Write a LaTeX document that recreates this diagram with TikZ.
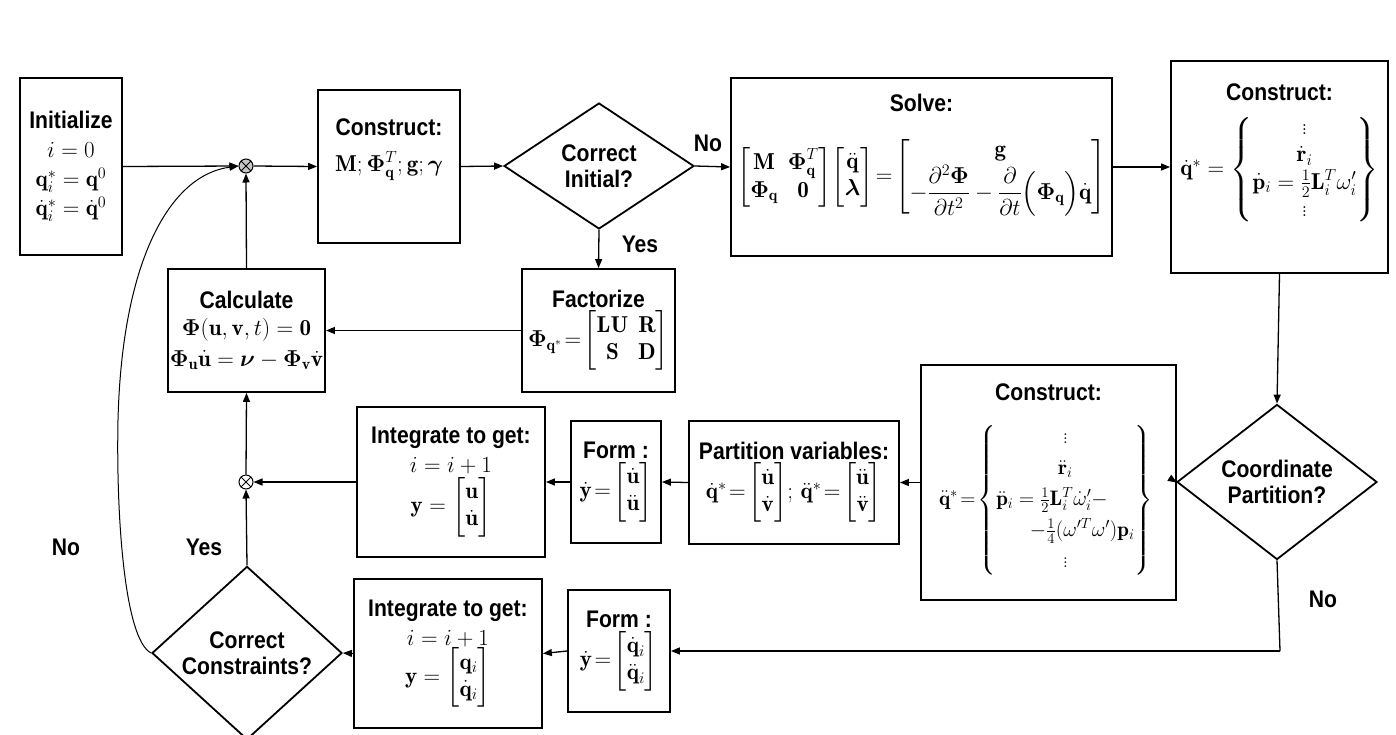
\documentclass[tikz,border=0pt]{standalone}
\usepackage{fix-cm}
\usepackage{amsmath}
\usepackage{fontspec}
\newfontfamily\hd{Liberation Sans Bold}[FakeStretch=0.88]
\usetikzlibrary{shapes.geometric,arrows.meta}
\begin{document}
\begin{tikzpicture}[x=1pt,y=-1pt,
  box/.style={draw,line width=1.8pt,inner sep=2pt,align=center,font=\fontsize{23}{27}\selectfont},
  mth/.style={inner sep=0pt,align=center,font=\fontsize{23}{27}\selectfont},
  dia/.style={draw,line width=1.8pt,diamond,inner sep=0pt,align=center,font=\hd\fontsize{24}{26}\selectfont},
  arr/.style={line width=1.3pt,-{Triangle[length=9pt,width=7pt]}},
  ln/.style={line width=1.3pt},
  jn/.style={draw,circle,line width=1pt,minimum size=14pt,inner sep=0pt,path picture={\draw[line width=0.8pt] (path picture bounding box.north west)--(path picture bounding box.south east) (path picture bounding box.south west)--(path picture bounding box.north east);}},
  lab/.style={font=\hd\fontsize{24}{26}\selectfont},
  ttl/.style={font=\hd\fontsize{24}{26}\selectfont}]
\useasboundingbox (0,0) rectangle (1396,734);
\newcommand\hh[1]{{\hd\fontsize{24}{26}\selectfont #1}}
% boxes
\node[box,minimum width=102pt,minimum height=177pt] (init) at (71,166.5)
  {\hh{Initialize}\\[2pt] $i=0$\\[2pt] $\mathbf q^*_i=\mathbf q^0$\\[2pt] $\dot{\mathbf q}^*_i=\dot{\mathbf q}^0$};
\node[box,minimum width=142pt,minimum height=153pt] (c1) at (389,166.5) {};
\node[ttl] (c1t) at (389,127) {Construct:};
\node[mth] (c1m) at (389,166) {$\mathbf M;\boldsymbol\Phi^T_{\mathbf q};\mathbf g;\boldsymbol\gamma$};
\node[dia,minimum width=190pt,minimum height=126pt] (d1) at (599,166) {Correct\\Initial?};
\node[box,minimum width=381pt,minimum height=178pt] (solve) at (921.5,167) {};
\node[ttl] (solvet) at (921.5,103) {Solve:};
\node[mth] (solvem) at (921.5,177)
  {$\begin{bmatrix}\mathbf M & \boldsymbol\Phi_{\mathbf q}^T\\ \boldsymbol\Phi_{\mathbf q} & \mathbf 0\end{bmatrix}\!\begin{bmatrix}\ddot{\mathbf q}\\ \boldsymbol\lambda\end{bmatrix}\!=\!\begin{bmatrix}\mathbf g\\ -\dfrac{\partial^2\boldsymbol\Phi}{\partial t^2}-\dfrac{\partial}{\partial t}\Bigl(\boldsymbol\Phi_{\mathbf q}\Bigr)\dot{\mathbf q}\end{bmatrix}$};
\node[box,minimum width=217pt,minimum height=212pt] (c2) at (1279.5,167) {};
\node[ttl] (c2t) at (1279.5,92) {Construct:};
\node[mth] (c2m) at (1279.5,170)
  {$\dot{\mathbf q}^*=\left\{\begin{matrix}\vdots\\ \dot{\mathbf r}_i\\ \dot{\mathbf p}_i=\frac12\mathbf L_i^T\omega'_i\\ \vdots\end{matrix}\right\}$};
\node[box,minimum width=153pt,minimum height=123pt] (fact) at (598.5,330.5)
  {\hh{Factorize}\\[2pt]
  $\boldsymbol\Phi_{\mathbf q^*}\!=\!\begin{bmatrix}\mathbf{LU}&\mathbf R\\ \mathbf S&\mathbf D\end{bmatrix}$};
\node[box,minimum width=155pt,minimum height=123pt] (calc) at (246.5,330.5)
  {\hh{Calculate}\\[0pt]
  $\boldsymbol\Phi(\mathbf u,\mathbf v,t)=\mathbf 0$\\[4pt]
  $\boldsymbol\Phi_{\mathbf u}\dot{\mathbf u}=\boldsymbol\nu-\boldsymbol\Phi_{\mathbf v}\dot{\mathbf v}$};
\node[dia,minimum width=200pt,minimum height=128pt] (d2) at (1277,482) {Coordinate\\Partition?};
\node[box,minimum width=255pt,minimum height=235pt] (c3) at (1048.5,482.5) {};
\node[ttl] (c3t) at (1048.5,392) {Construct:};
\node[mth,font=\fontsize{21}{28}\selectfont] (c3m) at (1046,500)
  {$\ddot{\mathbf q}^*\!=\!\left\{\begin{array}{@{}l@{}}\hfill\vdots\hfill\\[3pt] \hfill\ddot{\mathbf r}_i\hfill\\[3pt] \ddot{\mathbf p}_i=\frac12\mathbf L_i^T\dot\omega'_i-\\[3pt] \quad\ \ -\frac14(\omega'^T\omega')\mathbf p_i\\[3pt] \hfill\vdots\hfill\end{array}\right\}$};
\node[box,minimum width=210pt,minimum height=123pt] (part) at (794,482.5)
  {\hh{Partition variables:}\\[2pt]
  $\dot{\mathbf q}^*\!=\!\begin{bmatrix}\dot{\mathbf u}\\ \dot{\mathbf v}\end{bmatrix}\!;\,\ddot{\mathbf q}^*\!=\!\begin{bmatrix}\ddot{\mathbf u}\\ \ddot{\mathbf v}\end{bmatrix}$};
\node[box,minimum width=90pt,minimum height=122pt] (f1) at (616,482)
  {\hh{Form :}\\[2pt]
  $\dot{\mathbf y}\!=\!\begin{bmatrix}\dot{\mathbf u}\\ \ddot{\mathbf u}\end{bmatrix}$};
\node[box,minimum width=188pt,minimum height=150pt] (i1) at (451,482)
  {\hh{Integrate to get:}\\[2pt]
  $i=i+1$\\[2pt] $\mathbf y=\begin{bmatrix}\mathbf u\\ \dot{\mathbf u}\end{bmatrix}$};
\node[dia,minimum width=190pt,minimum height=126pt] (d3) at (247,653) {Correct\\Constraints?};
\node[box,minimum width=188pt,minimum height=149pt] (i2) at (448,653.5)
  {\hh{Integrate to get:}\\[2pt]
  $i=i+1$\\[0pt] $\mathbf y=\begin{bmatrix}\mathbf q_i\\ \dot{\mathbf q}_i\end{bmatrix}$};
\node[box,minimum width=102pt,minimum height=122pt] (f2) at (619,651)
  {\hh{Form :}\\[2pt]
  $\dot{\mathbf y}\!=\!\begin{bmatrix}\dot{\mathbf q}_i\\ \ddot{\mathbf q}_i\end{bmatrix}$};
% junctions
\node[jn,fill=gray!45] (j1) at (246,166) {};
\node[jn,fill=white] (j2) at (246,482) {};
\coordinate (cn) at (1280,651);
% connectors
\draw[arr] (init.east) -- (j1.west);
\draw[arr] (j1.east) -- (c1.west);
\draw[arr] (c1.east) -- (d1.west);
\draw[arr] (d1.east) -- (solve.west);
\draw[arr] (solve.east) -- (c2.west);
\draw[arr] (d1.south) -- (fact.north);
\draw[arr] (fact.west) -- (calc.east);
\draw[arr] (calc.north) -- (j1.south);
\draw[arr] (c2.south) -- (d2.north);
\draw[arr] (d2.west) -- (c3.east);
\draw[arr] (c3.west) -- (part.east);
\draw[arr] (part.west) -- (f1.east);
\draw[arr] (f1.west) -- (i1.east);
\draw[arr] (i1.west) -- (j2.east);
\draw[arr] (j2.north) -- (calc.south);
\draw[arr] (d3.north) -- (j2.south);
\draw[ln] (d2.south) -- (cn);
\draw[arr] (cn) -- (f2.east);
\draw[arr] (f2.west) -- (i2.east);
\draw[arr] (i2.west) -- (d3.east);
\draw[arr,line width=1pt] (d3.west) .. controls (125,640) and (116,520) .. (118,420)
   .. controls (122,260) and (170,175) .. (j1.west);
% labels
\node[lab] (lno1) at (708,143) {No};
\node[lab] (lyes1) at (640,244) {Yes};
\node[lab] (lno2) at (1323,599) {No};
\node[lab] (lno3) at (66,547) {No};
\node[lab] (lyes3) at (204,547) {Yes};
\end{tikzpicture}
\end{document}
